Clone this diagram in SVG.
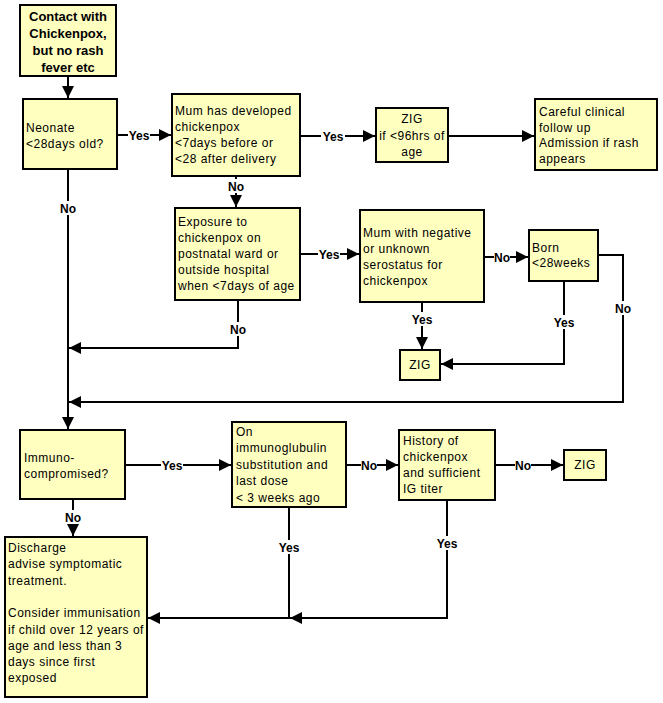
<svg xmlns="http://www.w3.org/2000/svg" width="663" height="703" viewBox="0 0 663 703">
<defs>
<marker id="ah" markerUnits="userSpaceOnUse" markerWidth="13" markerHeight="13" refX="12" refY="6" orient="auto">
<path d="M0,0 L12,6 L0,12 z" fill="#000"/>
</marker>
<style>
.box{fill:#FFFFC0;stroke:#000;stroke-width:2}
.t{font-family:"Liberation Sans",Arial,sans-serif;font-size:12px;letter-spacing:0.5px;fill:#000}
.c{text-anchor:middle}
.b{font-family:"Liberation Sans",Arial,sans-serif;font-size:13px;font-weight:bold;fill:#000;text-anchor:middle}
.ln{fill:none;stroke:#000;stroke-width:2}
.ar{marker-end:url(#ah)}
.lb{font-family:"Liberation Sans",Arial,sans-serif;font-size:12px;font-weight:bold;fill:#000;text-anchor:middle}
.bg{fill:#fff}
</style>
</defs>
<rect width="663" height="703" fill="#fff"/>

<g id="connectors">
<path class="ln ar" d="M68,77 V98"/>
<path class="ln ar" d="M118,135 H171"/>
<path class="ln ar" d="M301,136 H375"/>
<path class="ln ar" d="M449,136 H534"/>
<path class="ln ar" d="M236,177 V207"/>
<path class="ln ar" d="M68,170 V429"/>
<path class="ln ar" d="M301,254 H359"/>
<path class="ln ar" d="M485,257 H528"/>
<path class="ln ar" d="M422,303 V349"/>
<path class="ln ar" d="M564,282 V364 H441"/>
<path class="ln ar" d="M599,255 H623 V402 H69"/>
<path class="ln ar" d="M238,301 V348 H69"/>
<path class="ln ar" d="M126,465 H231"/>
<path class="ln ar" d="M73,500 V536"/>
<path class="ln ar" d="M347,465 H398"/>
<path class="ln ar" d="M496,465 H563"/>
<path class="ln ar" d="M289,508 V618 H148"/>
<path class="ln ar" d="M447,501 V618 H290"/>

<rect class="bg" x="128" y="128" width="22" height="14"/><text class="lb" x="139" y="140">Yes</text>
<rect class="bg" x="321" y="129" width="24" height="14"/><text class="lb" x="333" y="141">Yes</text>
<rect class="bg" x="228" y="179" width="16" height="14"/><text class="lb" x="236" y="191">No</text>
<rect class="bg" x="60" y="201" width="16" height="14"/><text class="lb" x="68" y="213">No</text>
<rect class="bg" x="318" y="247" width="22" height="14"/><text class="lb" x="329" y="259">Yes</text>
<rect class="bg" x="494" y="250" width="16" height="14"/><text class="lb" x="502" y="262">No</text>
<rect class="bg" x="411" y="312" width="22" height="14"/><text class="lb" x="422" y="324">Yes</text>
<rect class="bg" x="553" y="315" width="22" height="14"/><text class="lb" x="564" y="327">Yes</text>
<rect class="bg" x="615" y="301" width="16" height="14"/><text class="lb" x="623" y="313">No</text>
<rect class="bg" x="230" y="322" width="16" height="14"/><text class="lb" x="238" y="334">No</text>
<rect class="bg" x="161" y="458" width="22" height="14"/><text class="lb" x="172" y="470">Yes</text>
<rect class="bg" x="65" y="510" width="16" height="14"/><text class="lb" x="73" y="522">No</text>
<rect class="bg" x="361" y="458" width="16" height="14"/><text class="lb" x="369" y="470">No</text>
<rect class="bg" x="515" y="458" width="16" height="14"/><text class="lb" x="523" y="470">No</text>
<rect class="bg" x="278" y="540" width="22" height="14"/><text class="lb" x="289" y="552">Yes</text>
<rect class="bg" x="436" y="536" width="22" height="14"/><text class="lb" x="447" y="548">Yes</text>
</g>

<g id="contact">
<rect class="box" x="20" y="5" width="96" height="71"/>
<text class="b" x="68" y="21">Contact with</text>
<text class="b" x="68" y="38">Chickenpox,</text>
<text class="b" x="68" y="55">but no rash</text>
<text class="b" x="68" y="72">fever etc</text>
</g>

<g id="neonate">
<rect class="box" x="23" y="99" width="94" height="70"/>
<text class="t" x="26" y="132">Neonate</text>
<text class="t" x="26" y="148">&lt;28days old?</text>
</g>

<g id="mum-developed">
<rect class="box" x="172" y="94" width="128" height="82"/>
<text class="t" x="175" y="115">Mum has developed</text>
<text class="t" x="175" y="131">chickenpox</text>
<text class="t" x="175" y="147">&lt;7days before or</text>
<text class="t" x="175" y="163">&lt;28 after delivery</text>
</g>

<g id="zig1">
<rect class="box" x="376" y="108" width="72" height="54"/>
<text class="t c" x="412" y="123">ZIG</text>
<text class="t c" x="412" y="140">if &lt;96hrs of</text>
<text class="t c" x="412" y="156">age</text>
</g>

<g id="careful">
<rect class="box" x="535" y="99" width="122" height="71"/>
<text class="t" x="539" y="116">Careful clinical</text>
<text class="t" x="539" y="132">follow up</text>
<text class="t" x="539" y="147">Admission if rash</text>
<text class="t" x="539" y="163">appears</text>
</g>

<g id="exposure">
<rect class="box" x="175" y="208" width="125" height="92"/>
<text class="t" x="178" y="226">Exposure to</text>
<text class="t" x="178" y="242">chickenpox on</text>
<text class="t" x="178" y="258">postnatal ward or</text>
<text class="t" x="178" y="274">outside hospital</text>
<text class="t" x="178" y="290">when &lt;7days of age</text>
</g>

<g id="mum-negative">
<rect class="box" x="360" y="210" width="124" height="92"/>
<text class="t" x="363" y="237">Mum with negative</text>
<text class="t" x="363" y="253">or unknown</text>
<text class="t" x="363" y="269">serostatus for</text>
<text class="t" x="363" y="285">chickenpox</text>
</g>

<g id="born">
<rect class="box" x="529" y="230" width="69" height="51"/>
<text class="t" x="532" y="252">Born</text>
<text class="t" x="532" y="267">&lt;28weeks</text>
</g>

<g id="zig2">
<rect class="box" x="400" y="350" width="40" height="30"/>
<text class="t c" x="420" y="369">ZIG</text>
</g>

<g id="immuno">
<rect class="box" x="20" y="430" width="105" height="69"/>
<text class="t" x="24" y="462">Immuno-</text>
<text class="t" x="24" y="478">compromised?</text>
</g>

<g id="immunoglobulin">
<rect class="box" x="232" y="422" width="114" height="85"/>
<text class="t" x="236" y="436">On</text>
<text class="t" x="236" y="452">immunoglubulin</text>
<text class="t" x="236" y="469">substitution and</text>
<text class="t" x="236" y="485">last dose</text>
<text class="t" x="236" y="502">&lt; 3 weeks ago</text>
</g>

<g id="history">
<rect class="box" x="399" y="430" width="96" height="70"/>
<text class="t" x="403" y="445">History of</text>
<text class="t" x="403" y="461">chickenpox</text>
<text class="t" x="403" y="477">and sufficient</text>
<text class="t" x="403" y="493">IG titer</text>
</g>

<g id="zig3">
<rect class="box" x="564" y="450" width="42" height="30"/>
<text class="t c" x="585" y="469">ZIG</text>
</g>

<g id="discharge">
<rect class="box" x="5" y="537" width="142" height="160"/>
<text class="t" x="8" y="552">Discharge</text>
<text class="t" x="8" y="568">advise symptomatic</text>
<text class="t" x="8" y="585">treatment.</text>
<text class="t" x="8" y="617">Consider immunisation</text>
<text class="t" x="8" y="634">if child over 12 years of</text>
<text class="t" x="8" y="650">age and less than 3</text>
<text class="t" x="8" y="666">days since first</text>
<text class="t" x="8" y="682">exposed</text>
</g>
</svg>
